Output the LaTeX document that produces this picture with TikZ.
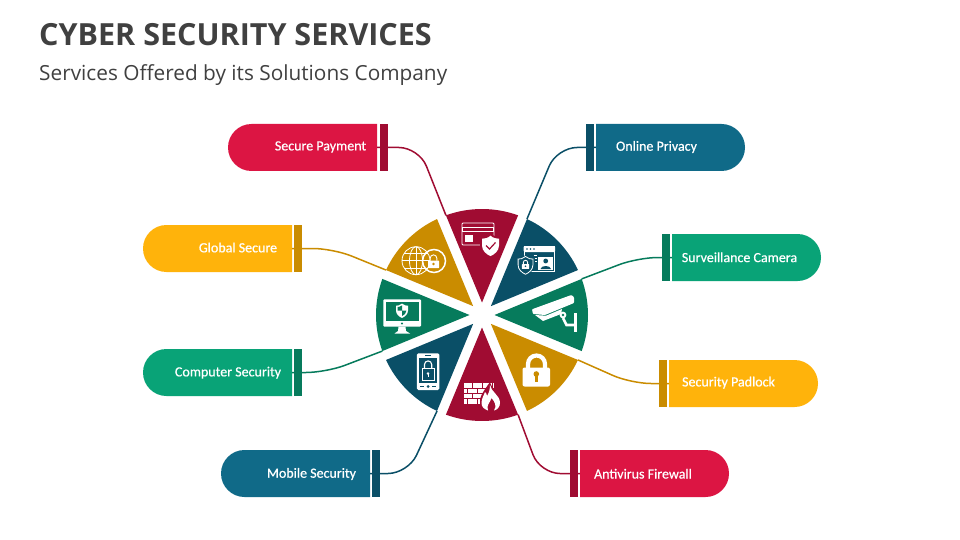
\documentclass[tikz,border=0pt]{standalone}
\usepackage{fontspec}
\setmainfont{Carlito}
\newfontfamily\headfont{Open Sans}
\newfontfamily\pillfont[FakeBold=0.6]{Carlito}
\usetikzlibrary{positioning, calc, shapes.misc}

\definecolor{redpill}{HTML}{DC1543}
\definecolor{reddark}{HTML}{A00C32}
\definecolor{bluepill}{HTML}{106A88}
\definecolor{bluedark}{HTML}{0A4F67}
\definecolor{greenpill}{HTML}{09A377}
\definecolor{greendark}{HTML}{067B5C}
\definecolor{goldpill}{HTML}{FFB30B}
\definecolor{golddark}{HTML}{CA8C00}
\definecolor{titlegray}{HTML}{404040}

% one sector of the disc, with a named point on its rim
\newcommand{\slice}[3]{
\fill[#2] ($(c)+(#1:12.5)$) -- ($(c)+(#1-19.9:106)$) arc[start angle=#1-19.9, end angle=#1+19.9, radius=106] -- cycle;
\coordinate (#3) at ($(c)+(#1-19.9:106)$);
}
\def\shieldpath{(0,-1.15) .. controls (.35,-.85) and (.7,-.8) .. (1,-.8) -- (1,0) .. controls (1,.65) and (.45,1.05) .. (0,1.25) .. controls (-.45,1.05) and (-1,.65) .. (-1,0) -- (-1,-.8) .. controls (-.7,-.8) and (-.35,-.85) .. (0,-1.15) -- cycle}
% small padlock: centre x, centre y, half width, colour of the keyhole
\newcommand{\tinylock}[4]{
\begin{scope}[shift={(#1,#2)}, scale=#3]
\fill[white, rounded corners=.5] (-1,-.25) rectangle (1,1.1);
\draw[white, line width=.9] (-.6,-.25) -- (-.6,-.7) arc[start angle=180, end angle=360, radius=.6] -- (.6,-.25);
\fill[#4] (0,.35) circle (.25);
\end{scope}
}

\begin{document}
\begin{tikzpicture}[x=1pt, y=-1pt,
pill/.style = {rounded rectangle, minimum width=149, minimum height=47, inner sep=0},
leftpill/.style = {pill, rounded rectangle east arc=none},
rightpill/.style = {pill, rounded rectangle west arc=none},
tab/.style = {minimum width=8, minimum height=47, inner sep=0},
pilltext/.style = {text=white, font=\pillfont\fontsize{14}{16}\selectfont, inner sep=0},
link/.style = {line width=1.5, rounded corners=20},
wire/.style = {white, line width=.8}]
\fill[white] (0,0) rectangle (960,540);
\useasboundingbox (0,0) rectangle (960,540);

\node[anchor=west, text=titlegray, inner sep=0, font=\headfont\fontsize{30.5}{36}\selectfont\bfseries] (title) at (39,35) {CYBER SECURITY SERVICES};
\node[anchor=west, text=titlegray, inner sep=0, font=\headfont\fontsize{20.8}{24}\selectfont] (subtitle) at (39,75) {Services Offered by its Solutions Company};

\coordinate (c) at (482,315);
\slice{-90}{reddark}{w1}
\slice{-45}{bluedark}{w2}
\slice{0}{greendark}{w3}
\slice{45}{golddark}{w4}
\slice{90}{reddark}{w5}
\slice{135}{bluedark}{w6}
\slice{180}{greendark}{w7}
\slice{225}{golddark}{w8}

\node[leftpill, fill=redpill] (p1) at (302.5,147.5) {};
\node[rightpill, fill=bluepill] (p2) at (670.5,147.5) {};
\node[rightpill, fill=greenpill] (p3) at (746.5,257.5) {};
\node[rightpill, fill=goldpill] (p4) at (743.5,383.5) {};
\node[rightpill, fill=redpill] (p5) at (654.5,473.5) {};
\node[leftpill, fill=bluepill] (p6) at (295.5,473.5) {};
\node[leftpill, fill=greenpill] (p7) at (217.5,372.5) {};
\node[leftpill, fill=goldpill] (p8) at (217.5,248.5) {};

\node[tab, fill=reddark] (b1) [right=2.5 of p1] {};
\node[tab, fill=bluedark] (b2) [left=2 of p2] {};
\node[tab, fill=greendark] (b3) [left=2 of p3] {};
\node[tab, fill=golddark] (b4) [left=2 of p4] {};
\node[tab, fill=reddark] (b5) [left=1.5 of p5] {};
\node[tab, fill=bluedark] (b6) [right=2 of p6] {};
\node[tab, fill=greendark] (b7) [right=2 of p7] {};
\node[tab, fill=golddark] (b8) [right=2 of p8] {};

\node[pilltext] (t1) at (320.5,147) {Secure Payment};
\node[pilltext] (t2) at (656.5,147) {Online Privacy};
\node[pilltext] (t3) at (739.5,257.3) {Surveillance Camera};
\node[pilltext] (t4) at (728.5,382.7) {Security Padlock};
\node[pilltext] (t5) at (643,473.7) {Antivirus Firewall};
\node[pilltext] (t6) at (311.5,474) {Mobile Security};
\node[pilltext] (t7) at (228,372.7) {Computer Security};
\node[pilltext] (t8) at (238,247.5) {Global Secure};

\coordinate (k1) at (419,147.5);
\coordinate (k2) at (557,147.5);
\coordinate (k3) at (638,257.5);
\coordinate (k4) at (631,383.5);
\coordinate (k5) at (540,473.5);
\coordinate (k6) at (408,473.5);
\coordinate (k7) at (326,372.5);
\coordinate (k8) at (333,248.5);
\draw[link, reddark] (p1.east) -- (k1) -- (w1);
\draw[link, bluedark] (p2.west) -- (k2) -- (w2);
\draw[link, greendark] (p3.west) -- (k3) -- (w3);
\draw[link, golddark] (p4.west) -- (k4) -- (w4);
\draw[link, reddark] (p5.west) -- (k5) -- (w5);
\draw[link, bluedark] (p6.east) -- (k6) -- (w6);
\draw[link, greendark] (p7.east) -- (k7) -- (w7);
\draw[link, golddark] (p8.east) -- (k8) -- (w8);

% card and shield
\draw[wire, rounded corners=1] (462,223) rectangle (494,245);
\fill[white] (462,226.5) rectangle (494,231.5);
\fill[reddark] (463,227.5) rectangle (493,230.5);
\fill[white] (465,235) rectangle (472.5,241.5);
\begin{scope}[shift={(490.5,245.5)}, scale=10.5]
\fill[reddark] \shieldpath;
\end{scope}
\begin{scope}[shift={(490.5,245.5)}, scale=8.5]
\fill[white] \shieldpath;
\end{scope}
\draw[reddark, line width=1.2] (486,245.5) -- (489.5,249) -- (495.5,242.5);

% browser window, shield and person
\fill[white, rounded corners=1] (523.5,246) rectangle (555,252);
\draw[wire] (524,246.5) rectangle (554.5,271);
\foreach \i in {527,530.5,534} \fill[bluedark] (\i,249) circle (.9);
\begin{scope}[shift={(525.5,265)}, scale=8.6]
\fill[bluedark] \shieldpath;
\end{scope}
\begin{scope}[shift={(525.5,265)}, scale=7.4]
\draw[white, line width=.8] \shieldpath;
\end{scope}
\tinylock{525.5}{265}{3.6}{bluedark}
\fill[white] (538.3,256.7) rectangle (553.3,270);
\fill[bluedark] (545.7,261) circle (2.4);
\fill[bluedark] (540.5,269) .. controls (541,265) and (550.5,265) .. (551,269) -- cycle;
\draw[white, line width=.7] (533.5,255) -- (536.5,255) (534.5,258) -- (536.5,258) (535,261) -- (536.5,261);

% camera
\fill[white, rounded corners=.8] (532,309.3) -- (571.3,295) -- (574,297) -- (574,303) -- (545,315) -- (533,314) -- cycle;
\fill[white] (535,315) -- (546,315.7) -- (562,309) -- (561,314) -- (543,321) -- cycle;
\fill[white] (563,315) circle (3.4);
\fill[greendark] (563,315) circle (1.3);
\fill[white] (573.7,313.3) rectangle (577,332);
\draw[white, line width=2.6] (563,318) -- (566.5,325) -- (574,325);

% padlock
\draw[white, line width=4.2] (528,369) -- (528,364) arc[start angle=180, end angle=360, radius=8.5] -- (545,369);
\fill[white, rounded corners=2] (522.5,367.5) rectangle (550,386.5);
\fill[golddark] (536.3,374) circle (2.8);
\fill[golddark] (535,374) rectangle (537.6,382);

% brick wall and flame
\fill[white] (464,383) rectangle (494,403.5);
\foreach \i in {388,393,398} \draw[reddark, line width=.5] (464,\i) -- (494,\i);
\foreach \i in {472,482,492} {\draw[reddark, line width=.5] (\i,383) -- (\i,388);
\draw[reddark, line width=.5] (\i,393) -- (\i,398);}
\foreach \i in {467,477,487} {\draw[reddark, line width=.5] (\i,388) -- (\i,393);
\draw[reddark, line width=.5] (\i,398) -- (\i,403.5);}
\fill[reddark] (490,382) .. controls (492,391) and (503,393) .. (502,404) .. controls (501,414) and (482,414) .. (480,404) .. controls (479,397) and (483,392) .. (490,382) -- cycle;
\fill[white] (490,385) .. controls (491,392) and (500,395) .. (500,403) .. controls (500,407) and (497,410) .. (494,410.5) .. controls (497,406) and (495,402) .. (491.5,398) .. controls (490,403) and (486,405) .. (488,410.5) .. controls (484,409) and (481.5,407) .. (481.5,403) .. controls (481.5,398) and (484,396) .. (485,392) .. controls (486,393) and (487,394) .. (487,396) .. controls (489,393) and (490,389) .. (490,385) -- cycle;

% phone
\fill[white, rounded corners=1.5] (416.8,353.3) rectangle (439.3,390);
\fill[bluedark] (419,358.3) rectangle (436.7,382.5);
\fill[bluedark] (425,355.2) rectangle (431,356.4);
\fill[bluedark] (428,386.5) circle (1.5);
\fill[bluedark] (420,386) rectangle (424,387);
\fill[bluedark] (432,386) rectangle (436,387);
\draw[wire] (422.2,368.5) rectangle (434,380);
\draw[white, line width=1.1] (424.5,368.5) -- (424.5,364.5) arc[start angle=180, end angle=360, radius=3.6] -- (431.7,368.5);
\fill[white] (428,373.5) circle (1.4);
\fill[white] (427.5,373.5) rectangle (428.5,377);

% monitor and shield
\fill[white, rounded corners=1] (383.3,299.3) rectangle (421,326.7);
\fill[greendark] (385.5,301.5) rectangle (419,320.5);
\fill[greendark] (402,323.5) circle (1.2);
\fill[white] (398.5,326.7) -- (405.5,326.7) -- (406,331) -- (410,333.5) -- (394.5,333.5) -- (398,331) -- cycle;
\begin{scope}[shift={(402,310.5)}, scale=6]
\fill[white] \shieldpath;
\begin{scope}[scale=.74]
\clip (-1.2,-1.3) rectangle (0,0) (0,0) rectangle (1.2,1.4);
\fill[greendark] \shieldpath;
\end{scope}
\end{scope}

% globe and padlock
\draw[wire] (416,260.7) circle (14);
\draw[wire] (416,260.7) ellipse (6.5 and 14);
\draw[wire] (402,260.7) -- (430,260.7);
\draw[wire] (404,253.5) -- (428,253.5);
\draw[wire] (404,268) -- (428,268);
\draw[wire] (416,246.7) -- (416,274.7);
\draw[white, line width=1.5] (434,261) circle (11.5);
\tinylock{433.5}{262}{5.5}{golddark}
\end{tikzpicture}
\end{document}
